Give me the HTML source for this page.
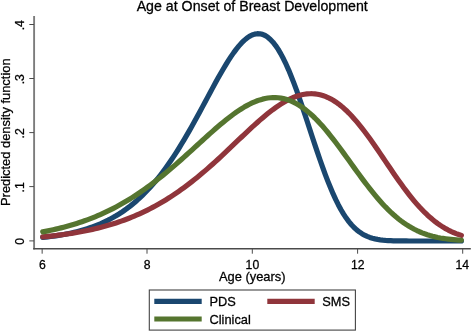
<!DOCTYPE html>
<html><head><meta charset="utf-8"><title>Age at Onset of Breast Development</title>
<style>
html,body{margin:0;padding:0;background:#fff;}
body{width:472px;height:332px;overflow:hidden;}
svg{display:block;}
text{font-family:"Liberation Sans",Arial,sans-serif;fill:#000;stroke:#000;stroke-width:0.27px;}
</style></head><body>
<svg width="472" height="332" viewBox="0 0 472 332">
<rect width="472" height="332" fill="#fff"/>
<text x="252.2" y="11.05" font-size="14.2" text-anchor="middle">Age at Onset of Breast Development</text>
<g fill="none" stroke-linecap="round" stroke-linejoin="round" stroke-width="5.2">
<path stroke="#1a476f" d="M42.75,237.47 L45.37,237.18 L47.98,236.87 L50.60,236.54 L53.22,236.19 L55.83,235.81 L58.45,235.40 L61.06,234.97 L63.68,234.50 L66.30,234.01 L68.91,233.48 L71.53,232.92 L74.15,232.32 L76.76,231.68 L79.38,231.00 L81.99,230.28 L84.61,229.51 L87.23,228.69 L89.84,227.83 L92.46,226.91 L95.07,225.93 L97.69,224.90 L100.31,223.81 L102.92,222.65 L105.54,221.43 L108.16,220.14 L110.77,218.77 L113.39,217.33 L116.01,215.81 L118.62,214.21 L121.24,212.53 L123.85,210.75 L126.47,208.89 L129.09,206.93 L131.70,204.87 L134.32,202.71 L136.94,200.45 L139.55,198.08 L142.17,195.60 L144.78,193.01 L147.40,190.31 L150.02,187.49 L152.63,184.55 L155.25,181.49 L157.87,178.31 L160.48,175.01 L163.10,171.58 L165.71,168.03 L168.33,164.36 L170.95,160.57 L173.56,156.66 L176.18,152.63 L178.80,148.49 L181.41,144.23 L184.03,139.88 L186.64,135.43 L189.26,130.88 L191.88,126.25 L194.49,121.55 L197.11,116.79 L199.73,111.97 L202.34,107.11 L204.96,102.24 L207.57,97.35 L210.19,92.48 L212.81,87.63 L215.42,82.83 L218.04,78.11 L220.66,73.47 L223.27,68.96 L225.89,64.59 L228.50,60.39 L231.12,56.39 L233.74,52.62 L236.35,49.10 L238.97,45.87 L241.59,42.95 L244.20,40.38 L246.82,38.19 L249.43,36.40 L252.05,35.04 L254.67,34.13 L257.28,33.71 L259.90,33.78 L262.51,34.38 L265.13,35.51 L267.75,37.18 L270.36,39.41 L272.98,42.20 L275.60,45.53 L278.21,49.42 L280.83,53.84 L283.44,58.78 L286.06,64.20 L288.68,70.10 L291.29,76.41 L293.91,83.12 L296.53,90.17 L299.14,97.51 L301.76,105.10 L304.38,112.87 L306.99,120.76 L309.61,128.72 L312.22,136.69 L314.84,144.60 L317.46,152.39 L320.07,160.02 L322.69,167.43 L325.31,174.56 L327.92,181.38 L330.54,187.85 L333.15,193.94 L335.77,199.63 L338.39,204.89 L341.00,209.72 L343.62,214.12 L346.24,218.08 L348.85,221.63 L351.47,224.77 L354.08,227.52 L356.70,229.91 L359.32,231.96 L361.93,233.71 L364.55,235.18 L367.17,236.40 L369.78,237.41 L372.40,238.23 L375.01,238.89 L377.63,239.41 L380.25,239.81 L382.86,240.13 L385.48,240.37 L388.10,240.55 L390.71,240.68 L393.33,240.78 L395.94,240.85 L398.56,240.90 L401.18,240.93 L403.79,240.96 L406.41,240.97 L409.03,240.98 L411.64,240.99 L414.26,240.99 L416.87,241.00 L419.49,241.00 L422.11,241.00 L424.72,241.00 L427.34,241.00 L429.96,241.00 L432.57,241.00 L435.19,241.00 L437.80,241.00 L440.42,241.00 L443.04,241.00 L445.65,241.00 L448.27,241.00 L450.89,241.00 L453.50,241.00 L456.12,241.00 L458.73,241.00 L461.35,241.00"/>
<path stroke="#90353b" d="M42.75,236.90 L45.37,236.65 L47.98,236.39 L50.60,236.11 L53.22,235.82 L55.83,235.52 L58.45,235.20 L61.06,234.86 L63.68,234.51 L66.30,234.14 L68.91,233.75 L71.53,233.34 L74.15,232.91 L76.76,232.47 L79.38,232.00 L81.99,231.52 L84.61,231.01 L87.23,230.48 L89.84,229.92 L92.46,229.34 L95.07,228.74 L97.69,228.11 L100.31,227.45 L102.92,226.76 L105.54,226.05 L108.16,225.31 L110.77,224.54 L113.39,223.73 L116.01,222.90 L118.62,222.03 L121.24,221.13 L123.85,220.20 L126.47,219.22 L129.09,218.22 L131.70,217.18 L134.32,216.10 L136.94,214.98 L139.55,213.82 L142.17,212.62 L144.78,211.38 L147.40,210.10 L150.02,208.78 L152.63,207.42 L155.25,206.01 L157.87,204.56 L160.48,203.07 L163.10,201.53 L165.71,199.94 L168.33,198.31 L170.95,196.64 L173.56,194.92 L176.18,193.16 L178.80,191.35 L181.41,189.49 L184.03,187.59 L186.64,185.65 L189.26,183.66 L191.88,181.63 L194.49,179.56 L197.11,177.44 L199.73,175.29 L202.34,173.09 L204.96,170.86 L207.57,168.60 L210.19,166.30 L212.81,163.96 L215.42,161.60 L218.04,159.21 L220.66,156.80 L223.27,154.36 L225.89,151.91 L228.50,149.44 L231.12,146.96 L233.74,144.47 L236.35,141.98 L238.97,139.49 L241.59,137.00 L244.20,134.52 L246.82,132.06 L249.43,129.62 L252.05,127.20 L254.67,124.82 L257.28,122.47 L259.90,120.17 L262.51,117.91 L265.13,115.72 L267.75,113.58 L270.36,111.52 L272.98,109.53 L275.60,107.63 L278.21,105.82 L280.83,104.10 L283.44,102.49 L286.06,101.00 L288.68,99.62 L291.29,98.37 L293.91,97.26 L296.53,96.28 L299.14,95.45 L301.76,94.78 L304.38,94.26 L306.99,93.91 L309.61,93.73 L312.22,93.72 L314.84,93.89 L317.46,94.24 L320.07,94.77 L322.69,95.50 L325.31,96.41 L327.92,97.52 L330.54,98.81 L333.15,100.29 L335.77,101.96 L338.39,103.82 L341.00,105.86 L343.62,108.08 L346.24,110.47 L348.85,113.03 L351.47,115.75 L354.08,118.63 L356.70,121.65 L359.32,124.81 L361.93,128.09 L364.55,131.49 L367.17,134.99 L369.78,138.58 L372.40,142.26 L375.01,146.00 L377.63,149.79 L380.25,153.63 L382.86,157.48 L385.48,161.36 L388.10,165.23 L390.71,169.08 L393.33,172.91 L395.94,176.69 L398.56,180.42 L401.18,184.08 L403.79,187.67 L406.41,191.16 L409.03,194.56 L411.64,197.85 L414.26,201.03 L416.87,204.08 L419.49,207.01 L422.11,209.80 L424.72,212.46 L427.34,214.97 L429.96,217.35 L432.57,219.58 L435.19,221.67 L437.80,223.62 L440.42,225.43 L443.04,227.10 L445.65,228.64 L448.27,230.06 L450.89,231.35 L453.50,232.52 L456.12,233.58 L458.73,234.54 L461.35,235.40"/>
<path stroke="#55752f" d="M42.75,231.88 L45.37,231.39 L47.98,230.86 L50.60,230.32 L53.22,229.75 L55.83,229.16 L58.45,228.54 L61.06,227.90 L63.68,227.23 L66.30,226.53 L68.91,225.80 L71.53,225.04 L74.15,224.26 L76.76,223.44 L79.38,222.59 L81.99,221.71 L84.61,220.79 L87.23,219.84 L89.84,218.86 L92.46,217.84 L95.07,216.79 L97.69,215.70 L100.31,214.57 L102.92,213.40 L105.54,212.19 L108.16,210.94 L110.77,209.66 L113.39,208.33 L116.01,206.96 L118.62,205.55 L121.24,204.10 L123.85,202.60 L126.47,201.07 L129.09,199.49 L131.70,197.87 L134.32,196.20 L136.94,194.49 L139.55,192.74 L142.17,190.95 L144.78,189.11 L147.40,187.24 L150.02,185.32 L152.63,183.36 L155.25,181.36 L157.87,179.32 L160.48,177.25 L163.10,175.14 L165.71,172.99 L168.33,170.81 L170.95,168.60 L173.56,166.36 L176.18,164.10 L178.80,161.80 L181.41,159.49 L184.03,157.15 L186.64,154.80 L189.26,152.43 L191.88,150.05 L194.49,147.67 L197.11,145.28 L199.73,142.89 L202.34,140.51 L204.96,138.13 L207.57,135.77 L210.19,133.43 L212.81,131.11 L215.42,128.81 L218.04,126.56 L220.66,124.34 L223.27,122.16 L225.89,120.04 L228.50,117.97 L231.12,115.97 L233.74,114.03 L236.35,112.17 L238.97,110.40 L241.59,108.71 L244.20,107.11 L246.82,105.62 L249.43,104.23 L252.05,102.96 L254.67,101.81 L257.28,100.78 L259.90,99.88 L262.51,99.13 L265.13,98.51 L267.75,98.04 L270.36,97.73 L272.98,97.57 L275.60,97.58 L278.21,97.74 L280.83,98.08 L283.44,98.59 L286.06,99.26 L288.68,100.12 L291.29,101.14 L293.91,102.34 L296.53,103.72 L299.14,105.27 L301.76,106.98 L304.38,108.87 L306.99,110.92 L309.61,113.12 L312.22,115.49 L314.84,118.00 L317.46,120.65 L320.07,123.44 L322.69,126.36 L325.31,129.39 L327.92,132.53 L330.54,135.78 L333.15,139.11 L335.77,142.52 L338.39,146.00 L341.00,149.53 L343.62,153.10 L346.24,156.71 L348.85,160.34 L351.47,163.98 L354.08,167.61 L356.70,171.22 L359.32,174.81 L361.93,178.36 L364.55,181.85 L367.17,185.29 L369.78,188.66 L372.40,191.95 L375.01,195.15 L377.63,198.25 L380.25,201.25 L382.86,204.14 L385.48,206.92 L388.10,209.57 L390.71,212.11 L393.33,214.52 L395.94,216.80 L398.56,218.96 L401.18,220.98 L403.79,222.88 L406.41,224.66 L409.03,226.31 L411.64,227.83 L414.26,229.25 L416.87,230.54 L419.49,231.73 L422.11,232.82 L424.72,233.80 L427.34,234.69 L429.96,235.49 L432.57,236.21 L435.19,236.86 L437.80,237.43 L440.42,237.94 L443.04,238.38 L445.65,238.77 L448.27,239.11 L450.89,239.41 L453.50,239.67 L456.12,239.89 L458.73,240.08 L461.35,240.24"/>
</g>
<g stroke="#4a4a4a" stroke-width="1" fill="none">
<path d="M34.1,16 V249.4" stroke-width="1.9" stroke="#7c7c7c"/>
<path d="M33.2,248.75 H470.8" stroke-width="1.3"/>
<path d="M29.3,24.5 H34 M29.3,78.5 H34 M29.3,132.6 H34 M29.3,186.6 H34 M29.3,240.9 H34"/>
<path d="M42.15,248.6 V253.7 M147.0,248.6 V253.7 M252.3,248.6 V253.7 M357.6,248.6 V253.7 M462.7,248.6 V253.7"/>
</g>
<g font-size="12.2" text-anchor="middle">
<text x="42.3" y="268.9">6</text>
<text x="147.2" y="268.9">8</text>
<text x="252.4" y="268.9">10</text>
<text x="357.7" y="268.9">12</text>
<text x="462.3" y="268.9">14</text>
<text transform="translate(24.0,25.2) rotate(-90)">.4</text>
<text transform="translate(24.0,79.2) rotate(-90)">.3</text>
<text transform="translate(24.0,133.3) rotate(-90)">.2</text>
<text transform="translate(24.0,187.3) rotate(-90)">.1</text>
<text transform="translate(24.0,241.3) rotate(-90)">0</text>
</g>
<g font-size="12.9" text-anchor="middle">
<text x="252.2" y="280.6">Age (years)</text>
<text transform="translate(10.4,132.2) rotate(-90)">Predicted density function</text>
</g>
<rect x="149.3" y="290" width="206.1" height="40.1" fill="#fff" stroke="#444" stroke-width="1.1"/>
<g stroke-width="5.2" fill="none">
<path stroke="#1a476f" d="M154.3,301.3 H201.7"/>
<path stroke="#55752f" d="M154.3,319 H201.7"/>
<path stroke="#90353b" d="M267.3,301.3 H314.7"/>
</g>
<g font-size="12.8">
<text x="209.5" y="305.9">PDS</text>
<text x="209.5" y="324.1">Clinical</text>
<text x="322.3" y="305.9">SMS</text>
</g>
</svg>
</body></html>
